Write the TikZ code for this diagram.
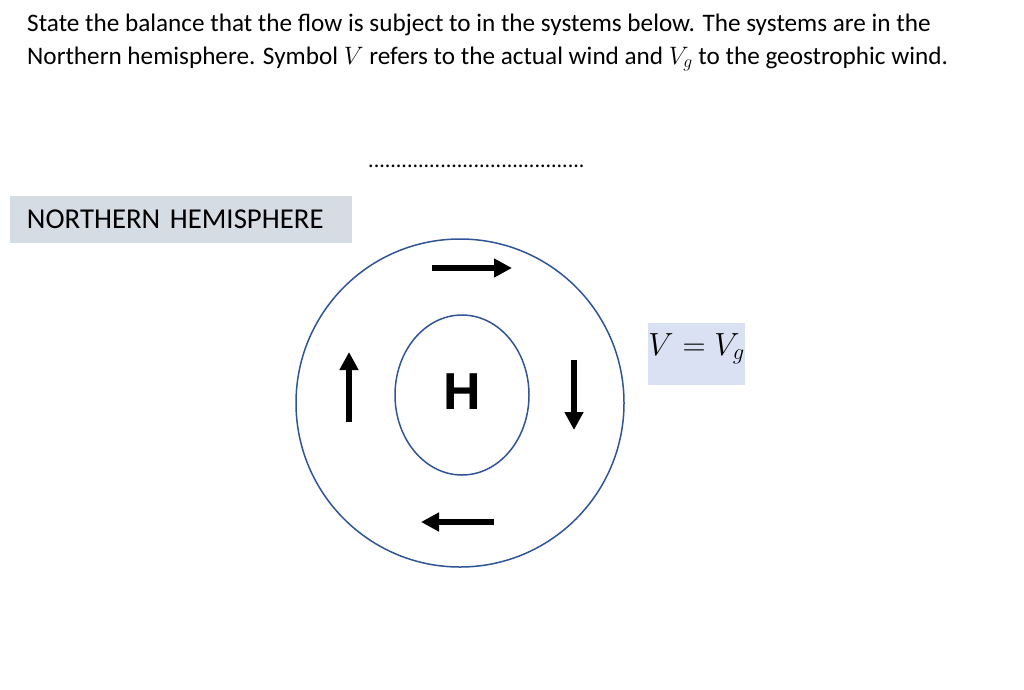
\RequirePackage{fix-cm}
\documentclass[tikz,border=0pt]{standalone}
\usepackage{fontspec}
\setmainfont{Carlito}
\newfontfamily\hfont{Liberation Sans}
\definecolor{hemiGray}{HTML}{D6DCE4}
\definecolor{ansBlue}{HTML}{D9E1F2}
\definecolor{ringBlue}{HTML}{2F5597}
\usetikzlibrary{arrows.meta,positioning,shapes.geometric}

\begin{document}
\begin{tikzpicture}[x=1pt, y=-1pt,
  txt/.style={font=\fontsize{25.2}{31.5}\selectfont, inner sep=0pt, anchor=base west},
  hemibox/.style={fill=hemiGray, font=\fontsize{28.8}{32}\selectfont,
                  minimum height=47pt, inner xsep=17pt, inner ysep=0pt,
                  text width=308pt, align=left},
  ansbox/.style={fill=ansBlue, font=\fontsize{32}{36}\selectfont,
                 minimum width=95pt, minimum height=62pt, inner sep=0pt,
                 text height=26pt, text depth=24pt},
  ring/.style={draw=ringBlue, line width=1.5pt},
  wind/.style={-{Triangle[length=18pt, width=18pt]}, line width=6pt}
]
\useasboundingbox (0,0) rectangle (1024,689);

% question text
\node[txt] (q1) at (27,31.5)
  {State the balance that the flow is subject to in the systems below. The systems are in the};
\node[txt] (q2) at (27,64)
  {Northern hemisphere. Symbol $V$ refers to the actual wind and $V_g$ to the geostrophic wind.};
\node[txt, font=\fontsize{22}{26}\selectfont] (blank) at (368,167)
  {.......................................};

\node[hemibox] (hemi) at (181,219.5) {NORTHERN HEMISPHERE};
\node[ansbox]  (ans)  at (696.5,354) {$V = V_g$};

% high pressure system
\node[ring, circle, minimum size=328pt] (outer) at (460,403) {};
\node[ring, ellipse, minimum width=134pt, minimum height=160pt,
      font=\hfont\bfseries\fontsize{52}{56}\selectfont,
      text height=37pt, text depth=9pt] (high) at (462,395) {H};

% wind arrows
\coordinate (topS) at (432,268);  \coordinate (topE) at (512,268);
\coordinate (rgtS) at (574,360);  \coordinate (rgtE) at (574,430);
\coordinate (botS) at (494,522);  \coordinate (botE) at (421,522);
\coordinate (lftS) at (349,422);  \coordinate (lftE) at (349,352);
\draw[wind] (topS) -- (topE);
\draw[wind] (rgtS) -- (rgtE);
\draw[wind] (botS) -- (botE);
\draw[wind] (lftS) -- (lftE);
\end{tikzpicture}
\end{document}
